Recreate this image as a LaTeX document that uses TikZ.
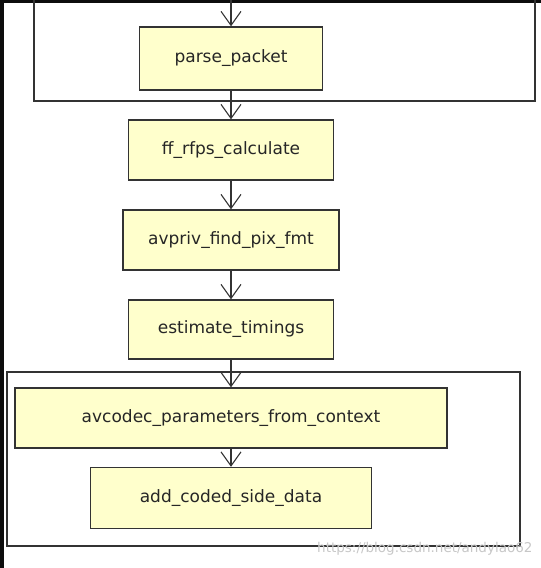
\documentclass[tikz,border=0pt]{standalone}
\usepackage{fontspec}
\setmainfont{DejaVu Sans}
\usetikzlibrary{arrows.meta}
\definecolor{boxfill}{HTML}{FFFFCC}
\definecolor{edge}{HTML}{333333}

\begin{document}
\begin{tikzpicture}[x=1pt, y=-1pt,
    func/.style={draw=edge, line width=1.4pt, fill=boxfill, inner sep=0pt,
        text=black!85, font=\fontsize{17}{19}\selectfont},
    frame/.style={draw=edge, line width=1.4pt},
    flow/.style={draw=edge, line width=1.1pt, -{Straight Barb[length=14pt, width=20pt, line width=1.1pt]}}]
    \useasboundingbox (0,0) rectangle (541,568);
    \clip (0,0) rectangle (541,568);
    % screenshot edges
    \fill[black!95] (0,0) rectangle (541,3);
    \fill[black!95] (0,0) rectangle (4,568);

    % outer frames
    \draw[frame] (34,-10) rectangle (535,101);
    \draw[frame] (7,372) rectangle (520,546);

    % calls
    \coordinate (top) at (231,0);
    \node[func, minimum width=183pt, minimum height=63pt] (parse) at (231,58.5) {parse\_packet};
    \node[func, minimum width=205pt, minimum height=60pt] (rfps) at (231,150) {ff\_rfps\_calculate};
    \node[func, minimum width=216pt, minimum height=60pt] (pixfmt) at (231,240) {avpriv\_find\_pix\_fmt};
    \node[func, minimum width=205pt, minimum height=59pt] (timings) at (231,329.5) {estimate\_timings};
    \node[func, minimum width=432pt, minimum height=60pt] (params) at (231,418) {avcodec\_parameters\_from\_context};
    \node[func, minimum width=281pt, minimum height=61pt] (sidedata) at (231,498) {add\_coded\_side\_data};

    % arrows
    \draw[flow] (top) -- (parse);
    \draw[flow] (parse) -- (rfps);
    \draw[flow] (rfps) -- (pixfmt);
    \draw[flow] (pixfmt) -- (timings);
    \draw[flow] (timings) -- (params);
    \draw[flow] (params) -- (sidedata);

    % watermark
    \node[text=black!22, font=\fontsize{13.5}{15}\selectfont, anchor=east] (mark) at (536,549) {https://blog.csdn.net/andylao62};
\end{tikzpicture}
\end{document}
